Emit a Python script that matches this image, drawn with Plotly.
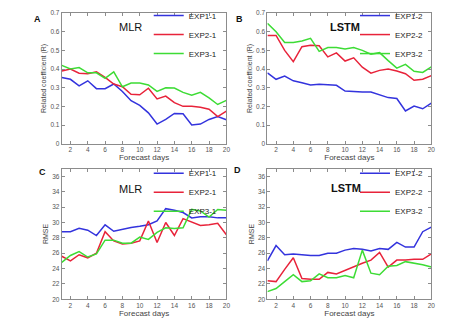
import plotly.graph_objects as go

days = list(range(1, 21))

# Panel A (MLR, R)
a_exp1 = [0.355, 0.345, 0.31, 0.337, 0.295, 0.295, 0.32, 0.28, 0.23, 0.205,
          0.165, 0.105, 0.13, 0.162, 0.16, 0.10, 0.105, 0.13, 0.145, 0.128]
a_exp2 = [0.39, 0.40, 0.378, 0.375, 0.385, 0.355, 0.32, 0.305, 0.265, 0.262,
          0.297, 0.24, 0.255, 0.22, 0.20, 0.20, 0.195, 0.185, 0.145, 0.175]
a_exp3 = [0.42, 0.40, 0.408, 0.38, 0.38, 0.35, 0.385, 0.305, 0.325, 0.325,
          0.315, 0.28, 0.30, 0.298, 0.275, 0.26, 0.275, 0.245, 0.21, 0.232]

# Panel B (LSTM, R)
b_exp1 = [0.38, 0.345, 0.362, 0.337, 0.327, 0.315, 0.318, 0.315, 0.313, 0.282,
          0.278, 0.277, 0.277, 0.262, 0.247, 0.242, 0.175, 0.202, 0.187, 0.217]
b_exp2 = [0.58, 0.58, 0.50, 0.44, 0.52, 0.527, 0.525, 0.465, 0.487, 0.443,
          0.46, 0.41, 0.378, 0.393, 0.40, 0.39, 0.375, 0.34, 0.345, 0.365]
b_exp3 = [0.645, 0.60, 0.542, 0.542, 0.55, 0.565, 0.495, 0.515, 0.515, 0.508,
          0.515, 0.50, 0.48, 0.488, 0.445, 0.405, 0.425, 0.388, 0.382, 0.412]

# Panel C (MLR, RMSE)
c_exp1 = [28.8, 28.8, 29.25, 29.0, 28.3, 29.7, 28.85, 29.1, 29.35, 29.5,
          29.7, 30.2, 31.8, 31.6, 31.3, 30.6, 30.75, 30.75, 30.6, 30.6]
c_exp2 = [25.6, 25.0, 25.8, 25.4, 26.0, 28.8, 27.6, 27.2, 27.3, 27.6,
          30.2, 27.4, 30.0, 28.3, 30.5, 30.0, 29.6, 29.7, 29.9, 28.4]
c_exp3 = [24.8, 25.7, 26.2, 25.5, 25.9, 27.7, 27.7, 27.3, 27.3, 28.1,
          27.8, 28.7, 29.3, 29.2, 29.3, 31.7, 31.5, 30.7, 31.7, 31.6]

# Panel D (LSTM, RMSE)
d_exp1 = [25.0, 27.0, 25.8, 25.9, 25.8, 25.7, 25.7, 26.0, 26.0, 26.4,
          26.6, 26.5, 26.3, 26.6, 26.5, 27.4, 26.8, 26.8, 28.8, 29.4]
d_exp2 = [22.4, 22.3, 23.9, 25.4, 22.7, 22.6, 22.6, 23.5, 23.3, 23.8,
          24.3, 24.7, 25.1, 26.1, 24.2, 25.1, 25.1, 25.2, 25.2, 25.9]
d_exp3 = [21.0, 21.4, 22.3, 23.2, 22.3, 22.4, 23.3, 22.8, 22.8, 23.1,
          22.8, 26.4, 23.4, 23.2, 24.3, 24.4, 24.9, 24.7, 24.5, 24.2]

names_1 = ["EXP1-1", "EXP2-1", "EXP3-1"]
names_2 = ["EXP1-2", "EXP2-2", "EXP3-2"]
colors = ["#3333dd", "#e8233a", "#3ddc35"]

r_ticks = [0, 0.1, 0.2, 0.3, 0.4, 0.5, 0.6, 0.7]
r_labels = ["0", "0.1", "0.2", "0.3", "0.4", "0.5", "0.6", "0.7"]
rmse_ticks = [20, 22, 24, 26, 28, 30, 32, 34, 36]
day_ticks = [2, 4, 6, 8, 10, 12, 14, 16, 18, 20]

W, H = 474, 329
FONT = "Liberation Sans, Arial, sans-serif"

def px_x(p):
    return p / W

def px_y(p):
    return 1 - p / H

fig = go.Figure()

panels = [
    ("x", "y", "legend", [a_exp1, a_exp2, a_exp3], names_1),
    ("x2", "y2", "legend2", [b_exp1, b_exp2, b_exp3], names_2),
    ("x3", "y3", "legend3", [c_exp1, c_exp2, c_exp3], names_1),
    ("x4", "y4", "legend4", [d_exp1, d_exp2, d_exp3], names_2),
]
for xa, ya, lg, series, names in panels:
    for s, n, c in zip(series, names, colors):
        fig.add_trace(go.Scatter(x=days, y=s, name=n, mode="lines",
                                 line=dict(color=c, width=1.5),
                                 xaxis=xa, yaxis=ya, legend=lg))

xl_left = (px_x(62.3), px_x(228.3))
xl_right = (px_x(269.7), px_x(435))
yd_top = (px_y(142.7), px_y(9.3))
yd_bot = (px_y(301.7), px_y(168.3))

axis_common = dict(showline=True, linecolor="#8c8c8c", linewidth=1, mirror="ticks",
                   ticks="inside", ticklen=3, tickcolor="#8c8c8c", showgrid=False,
                   zeroline=False, tickfont=dict(family=FONT, size=6.5, color="#555555"))

def xaxis(dom, anchor):
    return dict(domain=dom, anchor=anchor, range=[1, 20], tickvals=day_ticks,
                title=dict(text="Forecast days", font=dict(family=FONT, size=8, color="#444444"),
                           standoff=0),
                **axis_common)

def yaxis(dom, anchor, rng, tv, tt, title):
    return dict(domain=dom, anchor=anchor, range=rng, tickvals=tv, ticktext=tt,
                title=dict(text=title, font=dict(family=FONT, size=7, color="#444444"),
                           standoff=2),
                **axis_common)

rm_labels = [str(v) for v in rmse_ticks]
fig.update_layout(
    xaxis=xaxis(xl_left, "y"),
    yaxis=yaxis(yd_top, "x", [0, 0.7], r_ticks, r_labels, "Related coefficient (R)"),
    xaxis2=xaxis(xl_right, "y2"),
    yaxis2=yaxis(yd_top, "x2", [0, 0.7], r_ticks, r_labels, "Related coefficient (R)"),
    xaxis3=xaxis(xl_left, "y3"),
    yaxis3=yaxis(yd_bot, "x3", [20, 37], rmse_ticks, rm_labels, "RMSE"),
    xaxis4=xaxis(xl_right, "y4"),
    yaxis4=yaxis(yd_bot, "x4", [20, 37], rmse_ticks, rm_labels, "RMSE"),
)

leg_common = dict(bgcolor="rgba(0,0,0,0)", borderwidth=0, xanchor="left", yanchor="top",
                  font=dict(family=FONT, size=8, color="#222222"), tracegroupgap=0,
                  itemwidth=30)
fig.update_layout(
    legend=dict(x=px_x(150), y=px_y(-3), **leg_common),
    legend2=dict(x=px_x(358), y=px_y(-3), **leg_common),
    legend3=dict(x=px_x(150), y=px_y(158), **leg_common),
    legend4=dict(x=px_x(358), y=px_y(158), **leg_common),
)

annots = [
    ("MLR", 132, 24, 11, False), ("LSTM", 348, 24, 11, True),
    ("MLR", 132, 189, 11, False), ("LSTM", 349, 188, 11, True),
    ("A", 38, 15, 9, True), ("B", 242, 15, 9, True),
    ("C", 43, 172, 9, True), ("D", 240, 170, 9, True),
]
for txt, ax_, ay_, sz, bold in annots:
    fig.add_annotation(text=f"<b>{txt}</b>" if bold else txt, x=px_x(ax_), y=px_y(ay_),
                       xref="paper", yref="paper", showarrow=False,
                       xanchor="center", yanchor="middle",
                       font=dict(family=FONT, size=sz, color="#111111"))

fig.update_layout(width=W, height=H, margin=dict(l=0, r=0, t=0, b=0),
                  paper_bgcolor="white", plot_bgcolor="white", showlegend=True)

fig.write_html("out.html")
